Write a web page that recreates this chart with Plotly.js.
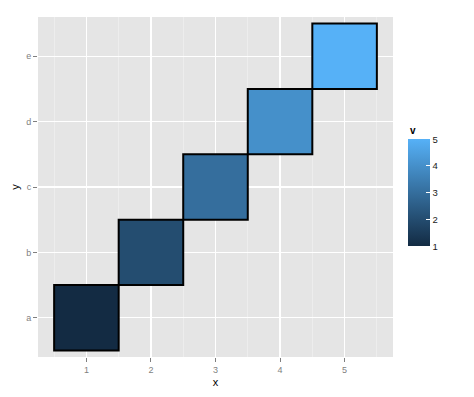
<!DOCTYPE html>
<html><head><meta charset="utf-8">
<script src="https://cdn.plot.ly/plotly-3.0.1.min.js"></script>
<style>html,body{margin:0;padding:0;background:#fff}#chart{width:474px;height:397px}</style>
</head><body><div id="chart"></div>
<script>
const xValues = [1, 2, 3, 4, 5];
const yCategories = ['a', 'b', 'c', 'd', 'e'];
const yValues = ['a', 'b', 'c', 'd', 'e'];
const vValues = [1, 2, 3, 4, 5];

const yIdx = yValues.map(c => yCategories.indexOf(c));

const trace = {
  type: 'bar',
  x: xValues,
  y: yIdx.map(() => 1),
  base: yIdx.map(i => i - 0.5),
  width: xValues.map(() => 1),
  marker: {
    color: vValues,
    colorscale: [[0, '#132B43'], [1, '#56B1F7']],
    cmin: 1, cmax: 5,
    line: {color: '#000000', width: 2},
    showscale: true,
    colorbar: {
      thickness: 22, thicknessmode: 'pixels',
      len: 107, lenmode: 'pixels',
      x: 408/474, xref: 'container', xanchor: 'left', xpad: 0,
      y: 1 - 225/397, yref: 'container', yanchor: 'middle', ypad: 0,
      outlinewidth: 0,
      tickvals: [1, 2, 3, 4, 5],
      ticks: 'inside', ticklen: 4, tickcolor: '#ffffff', tickwidth: 1,
      tickfont: {size: 9.5, color: '#1a1a1a'}
    }
  },
  hoverinfo: 'skip'
};

const layout = {
  width: 474, height: 397,
  margin: {l: 38, r: 81, t: 17, b: 40},
  paper_bgcolor: '#ffffff',
  plot_bgcolor: '#E5E5E5',
  font: {family: 'Liberation Sans, Arial, sans-serif'},
  showlegend: false,
  barmode: 'overlay',
  annotations: [{
    text: '<b>v</b>', xref: 'paper', yref: 'paper',
    x: (408 - 38) / 355, y: 1 - (131 - 17) / 340,
    xanchor: 'left', yanchor: 'middle', showarrow: false,
    font: {size: 10, color: '#000'}
  }],
  xaxis: {
    range: [0.25, 5.75], tickvals: xValues, ticktext: xValues.map(String),
    showgrid: true, gridcolor: '#ffffff', gridwidth: 1.2, zeroline: false,
    ticks: 'outside', ticklen: 4, tickcolor: '#7F7F7F', tickwidth: 1,
    tickfont: {size: 9, color: '#7F7F7F'},
    minor: {tick0: 0.5, dtick: 1, showgrid: true, gridcolor: '#F2F2F2', gridwidth: 0.6, ticks: ''},
    title: {text: 'x', font: {size: 11, color: '#000'}, standoff: 4},
    automargin: false, fixedrange: true
  },
  yaxis: {
    range: [-0.6, 4.6], tickvals: yCategories.map((c, i) => i), ticktext: yCategories,
    showgrid: true, gridcolor: '#ffffff', gridwidth: 1.2, zeroline: false,
    ticks: 'outside', ticklen: 4, tickcolor: '#7F7F7F', tickwidth: 1,
    tickfont: {size: 9, color: '#7F7F7F'},
    title: {text: 'y', font: {size: 11, color: '#000'}, standoff: 4},
    automargin: false, fixedrange: true
  }
};

Plotly.newPlot('chart', [trace], layout, {displayModeBar: false, staticPlot: true});
</script></body></html>
